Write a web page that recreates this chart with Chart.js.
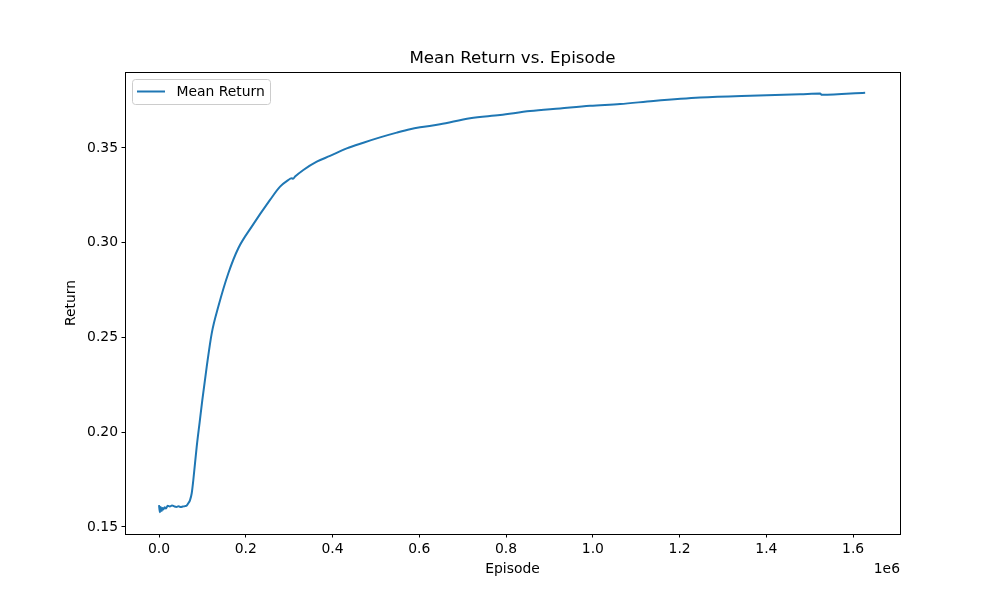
<!DOCTYPE html>
<html>
<head>
<meta charset="utf-8">
<script src="https://cdn.jsdelivr.net/npm/chart.js@4/dist/chart.umd.min.js"></script>
<style>
  html, body { margin: 0; padding: 0; background: #fff; }
  #wrap { width: 1000px; height: 600px; }
</style>
</head>
<body>
<div id="wrap"><canvas id="chart" width="1000" height="600"></canvas></div>
<script>
// episode numbers
const episodes = [
    0, 2000, 4000, 6000, 8000, 10000, 13000, 16000, 20000, 25000,
    30000, 35000, 40000, 45000, 50000, 55000, 60000, 64000, 67500, 71500,
    75400, 79100, 86900, 93500, 99800, 110000, 121500, 136700, 159800, 182800,
    213700, 255900, 279000, 296000, 305900, 309000, 313600, 332700, 363600, 394200,
    432800, 471000, 509500, 548000, 578700, 601700, 647800, 717000, 786200, 855300,
    924500, 993700, 1062800, 1139600, 1247300, 1362500, 1477800, 1523900, 1527800, 1627700
];
const meanReturn = [
    0.1616, 0.1578, 0.1605, 0.1585, 0.1600, 0.1592, 0.1604, 0.1598, 0.1612, 0.1608,
    0.1614, 0.1609, 0.1606, 0.1610, 0.1605, 0.1608, 0.1610, 0.1614, 0.1625, 0.1642,
    0.1678, 0.1748, 0.1924, 0.2050, 0.2170, 0.2346, 0.2522, 0.2663, 0.2839, 0.2971,
    0.3085, 0.3226, 0.3296, 0.3328, 0.3340, 0.3338, 0.3349, 0.3384, 0.3428, 0.3458,
    0.3498, 0.3528, 0.3556, 0.3581, 0.3599, 0.3609, 0.3625, 0.3657, 0.3674, 0.3695,
    0.3709, 0.3723, 0.3732, 0.3748, 0.3766, 0.3776, 0.3783, 0.3787, 0.3781, 0.3792
];
// tick positions
const xTicks = [0, 200000, 400000, 600000, 800000, 1000000, 1200000, 1400000, 1600000];
const yTicks = [0.15, 0.20, 0.25, 0.30, 0.35];

const font = "'DejaVu Sans', sans-serif";

// matplotlib-like decorations: frame, titles, offset text, legend
const mplDeco = {
    id: 'mplDeco',
    afterDraw(chart) {
        const ctx = chart.ctx;
        const a = chart.chartArea;
        ctx.save();
        // frame
        ctx.strokeStyle = '#000';
        ctx.lineWidth = 1;
        ctx.strokeRect(Math.round(a.left) + 0.5, Math.round(a.top) + 0.5,
            Math.round(a.right - a.left), Math.round(a.bottom - a.top));

        ctx.fillStyle = '#000';
        ctx.textAlign = 'center';
        ctx.textBaseline = 'middle';
        ctx.font = '16.7px ' + font;
        ctx.fillText('Mean Return vs. Episode', (a.left + a.right) / 2, 58.5);

        ctx.font = '13.9px ' + font;
        ctx.fillText('Episode', (a.left + a.right) / 2, 569);
        ctx.textAlign = 'right';
        ctx.fillText('1e6', a.right, 569);

        ctx.save();
        ctx.translate(71, (a.top + a.bottom) / 2);
        ctx.rotate(-Math.PI / 2);
        ctx.textAlign = 'center';
        ctx.fillText('Return', 0, 0);
        ctx.restore();

        // legend
        const lx = 132.5, ly = 79.5, lw = 138, lh = 25, r = 3;
        ctx.beginPath();
        ctx.moveTo(lx + r, ly);
        ctx.arcTo(lx + lw, ly, lx + lw, ly + lh, r);
        ctx.arcTo(lx + lw, ly + lh, lx, ly + lh, r);
        ctx.arcTo(lx, ly + lh, lx, ly, r);
        ctx.arcTo(lx, ly, lx + lw, ly, r);
        ctx.closePath();
        ctx.fillStyle = 'rgba(255,255,255,0.8)';
        ctx.fill();
        ctx.strokeStyle = '#cccccc';
        ctx.stroke();

        ctx.strokeStyle = '#1f77b4';
        ctx.lineWidth = 2;
        ctx.beginPath();
        ctx.moveTo(137, 91.5);
        ctx.lineTo(165, 91.5);
        ctx.stroke();

        ctx.fillStyle = '#000';
        ctx.textAlign = 'left';
        ctx.fillText('Mean Return', 176.5, 92);
        ctx.restore();
    }
};

document.addEventListener("DOMContentLoaded", function () {
    const ctx = document.getElementById('chart').getContext('2d');
    new Chart(ctx, {
        type: 'line',
        data: {
            datasets: [{
                label: 'Mean Return',
                data: episodes.map((e, i) => ({ x: e, y: meanReturn[i] })),
                borderColor: '#1f77b4',
                borderWidth: 2,
                pointRadius: 0,
                cubicInterpolationMode: 'monotone',
                fill: false
            }]
        },
        options: {
            responsive: false,
            animation: false,
            devicePixelRatio: 1,
            layout: { padding: { top: 72, right: 100, left: 0, bottom: 0 } },
            plugins: {
                legend: { display: false },
                title: { display: false },
                tooltip: { enabled: false }
            },
            scales: {
                x: {
                    type: 'linear',
                    min: -78400,
                    max: 1708000,
                    afterFit: s => { s.height = 66; },
                    afterBuildTicks: s => { s.ticks = xTicks.map(v => ({ value: v })); },
                    border: { display: false },
                    grid: { drawOnChartArea: false, drawTicks: true, tickLength: 3.5, color: '#000', lineWidth: 1 },
                    ticks: {
                        padding: 3.5,
                        color: '#000',
                        font: { family: font, size: 13.9 },
                        maxRotation: 0,
                        autoSkip: false,
                        callback: v => (v / 1e6).toFixed(1)
                    }
                },
                y: {
                    min: 0.1463,
                    max: 0.3901,
                    afterFit: s => { s.width = 125; },
                    afterBuildTicks: s => { s.ticks = yTicks.map(v => ({ value: v })); },
                    border: { display: false },
                    grid: { drawOnChartArea: false, drawTicks: true, tickLength: 3.5, color: '#000', lineWidth: 1 },
                    ticks: {
                        padding: 3.5,
                        color: '#000',
                        font: { family: font, size: 13.9 },
                        autoSkip: false,
                        callback: v => v.toFixed(2)
                    }
                }
            }
        },
        plugins: [mplDeco]
    });
});
</script>
</body>
</html>
